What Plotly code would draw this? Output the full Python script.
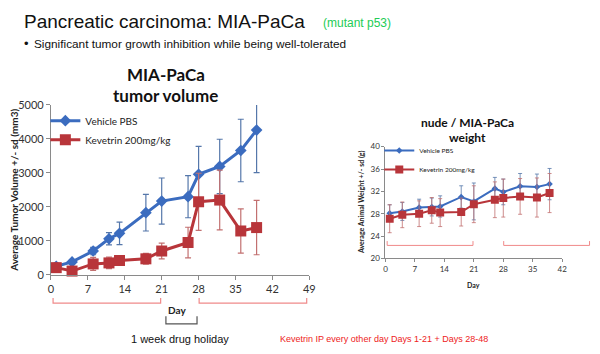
import plotly.graph_objects as go

# ---------------- data ----------------
days_tv = [1, 4, 8, 11, 13, 18, 21, 26, 28, 32, 36, 39]
veh_tv = [250, 380, 700, 1060, 1220, 1830, 2170, 2300, 2960, 3190, 3660, 4260]
veh_tv_sd = [90, 70, 110, 180, 330, 540, 680, 620, 820, 800, 920, 1250]
kev_tv = [210, 110, 320, 350, 420, 470, 700, 950, 2150, 2200, 1290, 1390]
kev_tv_sd = [80, 50, 190, 170, 60, 160, 230, 450, 840, 880, 650, 800]

days_w = [1, 4, 8, 11, 13, 18, 21, 26, 28, 32, 36, 39]
veh_w = [28.1, 28.4, 29.1, 29.2, 29.3, 31.0, 30.2, 32.5, 31.9, 32.9, 32.8, 33.3]
veh_w_sd = [1.5, 1.6, 1.5, 1.6, 1.9, 2.0, 3.3, 2.0, 2.3, 2.3, 2.3, 2.8]
kev_w = [27.1, 27.8, 28.0, 28.6, 28.2, 28.3, 29.7, 30.5, 30.8, 31.1, 30.9, 31.7]
kev_w_sd = [2.5, 2.3, 2.3, 2.3, 2.5, 2.5, 3.3, 3.2, 3.4, 3.2, 3.5, 3.5]

tv_xticks = [0, 7, 14, 21, 28, 35, 42, 49]
tv_yticks = [0, 1000, 2000, 3000, 4000, 5000]
w_xticks = [0, 7, 14, 21, 28, 35, 42]
w_yticks = [20, 24, 28, 32, 36, 40]

dosing_periods = [(0.4, 20.8), (28.1, 48.5)]
holiday = (21.8, 27.7)

BLUE = "#3b6cbf"
RED = "#b8353a"
BLUE_EB = "#5577aa"
RED_EB = "#c27070"
CHART_FONT = "Lato"
SLIDE_FONT = "Liberation Sans"

W, H = 600, 354

def px(v):
    return v / W

def py(v):
    return 1 - v / H

# domains (paper)
L_XD = [px(48.7), px(311)]
L_YD = [py(278), py(101.7)]
R_XD = [px(388.3), px(567.7)]
R_YD = [py(261), py(145)]

def lx(day):
    return L_XD[0] + (L_XD[1] - L_XD[0]) * day / 49.0

def rx(day):
    return R_XD[0] + (R_XD[1] - R_XD[0]) * day / 42.0

fig = go.Figure()

# ---- left chart: tumor volume ----
fig.add_trace(go.Scatter(
    x=days_tv, y=veh_tv, name="Vehicle PBS", mode="lines+markers",
    line=dict(color=BLUE, width=3), marker=dict(symbol="diamond", size=9, color=BLUE),
    error_y=dict(type="data", array=veh_tv_sd, color=BLUE_EB, thickness=1.2, width=3),
    xaxis="x", yaxis="y", legend="legend", cliponaxis=False))
fig.add_trace(go.Scatter(
    x=days_tv, y=kev_tv, name="Kevetrin 200mg/kg", mode="lines+markers",
    line=dict(color=RED, width=3), marker=dict(symbol="square", size=11, color=RED),
    error_y=dict(type="data", array=kev_tv_sd, color=RED_EB, thickness=1.2, width=3),
    xaxis="x", yaxis="y", legend="legend", cliponaxis=False))

# ---- right chart: weight ----
fig.add_trace(go.Scatter(
    x=days_w, y=veh_w, name="Vehicle PBS", mode="lines+markers",
    line=dict(color=BLUE, width=2), marker=dict(symbol="diamond", size=5, color=BLUE),
    error_y=dict(type="data", array=veh_w_sd, color=BLUE_EB, thickness=0.8, width=2),
    xaxis="x2", yaxis="y2", legend="legend2"))
fig.add_trace(go.Scatter(
    x=days_w, y=kev_w, name="Kevetrin 200mg/kg", mode="lines+markers",
    line=dict(color=RED, width=2), marker=dict(symbol="square", size=8, color=RED),
    error_y=dict(type="data", array=kev_w_sd, color=RED_EB, thickness=0.8, width=2),
    xaxis="x2", yaxis="y2", legend="legend2"))

axis_common = dict(showgrid=False, zeroline=False, showline=True, linecolor="#8a8a8a",
                   linewidth=1, ticks="outside", tickcolor="#8a8a8a", fixedrange=True)

fig.update_layout(
    width=W, height=H, margin=dict(l=0, r=0, t=0, b=0),
    paper_bgcolor="white", plot_bgcolor="white",
    font=dict(family=CHART_FONT, color="#333333"),
    xaxis=dict(domain=L_XD, range=[0, 49], tickvals=tv_xticks, ticklen=4,
               tickfont=dict(size=11, color="#333333"), anchor="y", **axis_common),
    yaxis=dict(domain=L_YD, range=[0, 5000], tickvals=tv_yticks, ticklen=4,
               tickfont=dict(size=11, color="#333333"), anchor="x", **axis_common),
    xaxis2=dict(domain=R_XD, range=[0, 42], tickvals=w_xticks, ticklen=3,
                tickfont=dict(size=8, color="#333333"), anchor="y2", **axis_common),
    yaxis2=dict(domain=R_YD, range=[20, 40], tickvals=w_yticks, ticklen=3,
                tickfont=dict(size=8, color="#333333"), anchor="x2", **axis_common),
    legend=dict(x=px(43), y=py(103), xanchor="left", yanchor="top",
                font=dict(size=10, family=CHART_FONT, color="#222222"),
                bgcolor="rgba(0,0,0,0)", itemwidth=30, tracegroupgap=0),
    legend2=dict(x=px(382), y=py(134), xanchor="left", yanchor="top",
                 font=dict(size=6.5, family=CHART_FONT, color="#222222"),
                 bgcolor="rgba(0,0,0,0)", itemwidth=30, tracegroupgap=0),
    showlegend=True,
)

ann = []
# slide title
ann.append(dict(x=px(19), y=py(15), xref="paper", yref="paper", xanchor="left", yanchor="middle",
                text="Pancreatic carcinoma: MIA-PaCa", showarrow=False,
                font=dict(family=SLIDE_FONT, size=19, color="#111111")))
ann.append(dict(x=px(323), y=py(17), xref="paper", yref="paper", xanchor="left", yanchor="middle",
                text="(mutant p53)", showarrow=False,
                font=dict(family=SLIDE_FONT, size=12, color="#22cc55")))
ann.append(dict(x=px(19), y=py(38), xref="paper", yref="paper", xanchor="left", yanchor="middle",
                text="•", showarrow=False,
                font=dict(family=SLIDE_FONT, size=13, color="#111111")))
ann.append(dict(x=px(29), y=py(38), xref="paper", yref="paper", xanchor="left", yanchor="middle",
                text="Significant tumor growth inhibition while being well-tolerated", showarrow=False,
                font=dict(family=SLIDE_FONT, size=11.8, color="#111111")))
# left chart titles
ann.append(dict(x=px(165), y=py(70), xref="paper", yref="paper", xanchor="center", yanchor="middle",
                text="<b>MIA-PaCa</b>", showarrow=False, font=dict(size=17, color="#111111")))
ann.append(dict(x=px(165), y=py(92), xref="paper", yref="paper", xanchor="center", yanchor="middle",
                text="<b>tumor volume</b>", showarrow=False, font=dict(size=17, color="#111111")))
ann.append(dict(x=px(11), y=py(190), xref="paper", yref="paper", xanchor="center", yanchor="middle",
                text="<b>Average Tumor Volume +/- sd (mm3)</b>", textangle=-90, showarrow=False,
                font=dict(size=10, color="#222222")))
ann.append(dict(x=px(177), y=py(315), xref="paper", yref="paper", xanchor="center", yanchor="middle",
                text="<b>Day</b>", showarrow=False, font=dict(size=10, color="#222222")))
ann.append(dict(x=px(180), y=py(345), xref="paper", yref="paper", xanchor="center", yanchor="middle",
                text="1 week drug holiday", showarrow=False,
                font=dict(family=SLIDE_FONT, size=11, color="#111111")))
ann.append(dict(x=px(279), y=py(345), xref="paper", yref="paper", xanchor="left", yanchor="middle",
                text="Kevetrin IP every other day Days 1-21 + Days 28-48", showarrow=False,
                font=dict(family=SLIDE_FONT, size=9, color="#ee2222")))
# right chart titles
ann.append(dict(x=px(472), y=py(120), xref="paper", yref="paper", xanchor="center", yanchor="middle",
                text="<b>nude / MIA-PaCa</b>", showarrow=False, font=dict(size=12, color="#111111")))
ann.append(dict(x=px(472), y=py(135), xref="paper", yref="paper", xanchor="center", yanchor="middle",
                text="<b>weight</b>", showarrow=False, font=dict(size=12, color="#111111")))
ann.append(dict(x=px(364), y=py(203), xref="paper", yref="paper", xanchor="center", yanchor="middle",
                text="<b>Average Animal Weight +/- sd (g)</b>", textangle=-90, showarrow=False,
                font=dict(size=7, color="#222222")))
ann.append(dict(x=px(478), y=py(289), xref="paper", yref="paper", xanchor="center", yanchor="middle",
                text="<b>Day</b>", showarrow=False, font=dict(size=7, color="#222222")))
fig.update_layout(annotations=ann)

shapes = []
BR = "#f08a8a"
# left dosing brackets
for a, b in dosing_periods:
    x0, x1 = lx(a), lx(b)
    shapes.append(dict(type="path", xref="paper", yref="paper",
                       path=f"M {x0} {py(302)} L {x0} {py(307.5)} L {x1} {py(307.5)} L {x1} {py(302)}",
                       line=dict(color=BR, width=1.2)))
# holiday bracket
h0, h1 = lx(holiday[0]), lx(holiday[1])
shapes.append(dict(type="path", xref="paper", yref="paper",
                   path=f"M {h0} {py(321)} L {h0} {py(329)} L {h1} {py(329)} L {h1} {py(321)}",
                   line=dict(color="#555555", width=1.2)))
# right dosing brackets
for a, b in dosing_periods:
    x0, x1 = rx(a), rx(b)
    shapes.append(dict(type="path", xref="paper", yref="paper",
                       path=f"M {x0} {py(243)} L {x0} {py(247.5)} L {x1} {py(247.5)} L {x1} {py(243)}",
                       line=dict(color=BR, width=1)))
fig.update_layout(shapes=shapes)

fig.write_html("out.html")
